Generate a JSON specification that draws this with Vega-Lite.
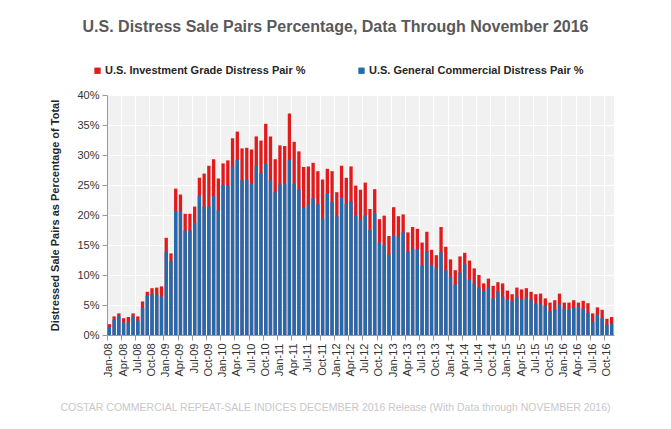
{
  "$schema": "https://vega.github.io/schema/vega-lite/v6.json",
  "autosize": "none",
  "width": 507,
  "height": 240,
  "padding": {"left": 107, "top": 95, "right": 57, "bottom": 94},
  "background": "white",
  "config": {
    "font": "Liberation Sans",
    "view": {"fill": "#f1f1f1", "stroke": null}
  },
  "title": {
    "text": "U.S. Distress Sale Pairs Percentage, Data Through November 2016",
    "fontSize": 16,
    "fontWeight": "bold",
    "color": "#595959",
    "anchor": "middle",
    "dx": -25,
    "offset": 30
  },
  "data": {
    "values": [
      {"m": "Jan-08", "ig": 1.8, "gc": 1.3}, {"m": "Feb-08", "ig": 3.1, "gc": 2.5}, {"m": "Mar-08", "ig": 3.6, "gc": 3.2},
      {"m": "Apr-08", "ig": 2.8, "gc": 2.1}, {"m": "May-08", "ig": 3.0, "gc": 2.1}, {"m": "Jun-08", "ig": 3.6, "gc": 3.1},
      {"m": "Jul-08", "ig": 3.1, "gc": 2.4}, {"m": "Aug-08", "ig": 5.6, "gc": 4.5}, {"m": "Sep-08", "ig": 7.2, "gc": 6.5},
      {"m": "Oct-08", "ig": 7.8, "gc": 6.8}, {"m": "Nov-08", "ig": 7.9, "gc": 6.8}, {"m": "Dec-08", "ig": 8.1, "gc": 6.4},
      {"m": "Jan-09", "ig": 16.2, "gc": 13.9}, {"m": "Feb-09", "ig": 13.6, "gc": 12.3}, {"m": "Mar-09", "ig": 24.4, "gc": 20.7},
      {"m": "Apr-09", "ig": 23.4, "gc": 20.7}, {"m": "May-09", "ig": 20.2, "gc": 17.4}, {"m": "Jun-09", "ig": 20.2, "gc": 17.4},
      {"m": "Jul-09", "ig": 21.4, "gc": 18.7}, {"m": "Aug-09", "ig": 26.2, "gc": 23.2}, {"m": "Sep-09", "ig": 26.9, "gc": 21.4},
      {"m": "Oct-09", "ig": 28.2, "gc": 21.4}, {"m": "Nov-09", "ig": 29.3, "gc": 23.2}, {"m": "Dec-09", "ig": 26.1, "gc": 20.8},
      {"m": "Jan-10", "ig": 28.6, "gc": 25.0}, {"m": "Feb-10", "ig": 29.1, "gc": 24.9}, {"m": "Mar-10", "ig": 32.8, "gc": 28.1},
      {"m": "Apr-10", "ig": 33.9, "gc": 29.2}, {"m": "May-10", "ig": 31.1, "gc": 25.8}, {"m": "Jun-10", "ig": 31.2, "gc": 25.9},
      {"m": "Jul-10", "ig": 30.9, "gc": 25.2}, {"m": "Aug-10", "ig": 33.1, "gc": 28.2}, {"m": "Sep-10", "ig": 32.4, "gc": 27.0},
      {"m": "Oct-10", "ig": 35.2, "gc": 28.5}, {"m": "Nov-10", "ig": 33.1, "gc": 25.8}, {"m": "Dec-10", "ig": 29.3, "gc": 23.8},
      {"m": "Jan-11", "ig": 31.6, "gc": 25.1}, {"m": "Feb-11", "ig": 31.5, "gc": 25.2}, {"m": "Mar-11", "ig": 36.9, "gc": 29.2},
      {"m": "Apr-11", "ig": 32.2, "gc": 25.2}, {"m": "May-11", "ig": 30.6, "gc": 24.3}, {"m": "Jun-11", "ig": 28.0, "gc": 21.2},
      {"m": "Jul-11", "ig": 28.1, "gc": 21.8}, {"m": "Aug-11", "ig": 28.7, "gc": 22.8}, {"m": "Sep-11", "ig": 27.3, "gc": 21.8},
      {"m": "Oct-11", "ig": 25.9, "gc": 19.4}, {"m": "Nov-11", "ig": 27.7, "gc": 23.6}, {"m": "Dec-11", "ig": 27.3, "gc": 22.2},
      {"m": "Jan-12", "ig": 23.8, "gc": 19.8}, {"m": "Feb-12", "ig": 28.2, "gc": 23.0}, {"m": "Mar-12", "ig": 26.2, "gc": 21.8},
      {"m": "Apr-12", "ig": 28.1, "gc": 22.3}, {"m": "May-12", "ig": 24.9, "gc": 19.9}, {"m": "Jun-12", "ig": 24.2, "gc": 19.2},
      {"m": "Jul-12", "ig": 25.4, "gc": 20.0}, {"m": "Aug-12", "ig": 21.0, "gc": 17.5}, {"m": "Sep-12", "ig": 24.3, "gc": 20.3},
      {"m": "Oct-12", "ig": 19.3, "gc": 15.4}, {"m": "Nov-12", "ig": 19.9, "gc": 15.0}, {"m": "Dec-12", "ig": 16.5, "gc": 13.4},
      {"m": "Jan-13", "ig": 21.3, "gc": 16.6}, {"m": "Feb-13", "ig": 19.8, "gc": 16.4}, {"m": "Mar-13", "ig": 20.1, "gc": 17.1},
      {"m": "Apr-13", "ig": 17.1, "gc": 13.9}, {"m": "May-13", "ig": 18.0, "gc": 14.4}, {"m": "Jun-13", "ig": 17.7, "gc": 14.3},
      {"m": "Jul-13", "ig": 15.4, "gc": 11.6}, {"m": "Aug-13", "ig": 17.2, "gc": 14.0}, {"m": "Sep-13", "ig": 14.2, "gc": 11.7},
      {"m": "Oct-13", "ig": 13.3, "gc": 11.1}, {"m": "Nov-13", "ig": 18.0, "gc": 13.8}, {"m": "Dec-13", "ig": 14.7, "gc": 10.8},
      {"m": "Jan-14", "ig": 12.6, "gc": 9.7}, {"m": "Feb-14", "ig": 10.8, "gc": 8.4}, {"m": "Mar-14", "ig": 13.1, "gc": 10.4},
      {"m": "Apr-14", "ig": 13.7, "gc": 11.8}, {"m": "May-14", "ig": 12.4, "gc": 9.2}, {"m": "Jun-14", "ig": 11.1, "gc": 8.6},
      {"m": "Jul-14", "ig": 10.0, "gc": 7.9}, {"m": "Aug-14", "ig": 8.6, "gc": 7.3}, {"m": "Sep-14", "ig": 9.4, "gc": 7.9},
      {"m": "Oct-14", "ig": 8.2, "gc": 6.1}, {"m": "Nov-14", "ig": 8.8, "gc": 7.3}, {"m": "Dec-14", "ig": 8.6, "gc": 6.4},
      {"m": "Jan-15", "ig": 7.4, "gc": 5.9}, {"m": "Feb-15", "ig": 6.8, "gc": 5.7}, {"m": "Mar-15", "ig": 7.9, "gc": 6.4},
      {"m": "Apr-15", "ig": 7.6, "gc": 6.0}, {"m": "May-15", "ig": 7.8, "gc": 6.3}, {"m": "Jun-15", "ig": 7.2, "gc": 5.9},
      {"m": "Jul-15", "ig": 6.8, "gc": 5.2}, {"m": "Aug-15", "ig": 6.9, "gc": 5.1}, {"m": "Sep-15", "ig": 6.1, "gc": 4.9},
      {"m": "Oct-15", "ig": 5.4, "gc": 4.0}, {"m": "Nov-15", "ig": 5.8, "gc": 4.3}, {"m": "Dec-15", "ig": 6.9, "gc": 5.1},
      {"m": "Jan-16", "ig": 5.4, "gc": 4.4}, {"m": "Feb-16", "ig": 5.4, "gc": 4.2}, {"m": "Mar-16", "ig": 5.8, "gc": 4.6},
      {"m": "Apr-16", "ig": 5.4, "gc": 4.7}, {"m": "May-16", "ig": 5.7, "gc": 4.4}, {"m": "Jun-16", "ig": 5.3, "gc": 3.7},
      {"m": "Jul-16", "ig": 3.6, "gc": 2.2}, {"m": "Aug-16", "ig": 4.6, "gc": 3.4}, {"m": "Sep-16", "ig": 4.2, "gc": 2.8},
      {"m": "Oct-16", "ig": 2.7, "gc": 1.7}, {"m": "Nov-16", "ig": 3.0, "gc": 1.9}
    ]
  },
  "transform": [
    {"fold": ["ig", "gc"], "as": ["series", "pct"]}
  ],
  "mark": {"type": "bar"},
  "encoding": {
    "x": {
      "field": "m",
      "type": "ordinal",
      "sort": null,
      "scale": {"paddingInner": 0.3, "paddingOuter": 0.15},
      "axis": {
        "values": ["Jan-08","Apr-08","Jul-08","Oct-08","Jan-09","Apr-09","Jul-09","Oct-09","Jan-10","Apr-10","Jul-10","Oct-10","Jan-11","Apr-11","Jul-11","Oct-11","Jan-12","Apr-12","Jul-12","Oct-12","Jan-13","Apr-13","Jul-13","Oct-13","Jan-14","Apr-14","Jul-14","Oct-14","Jan-15","Apr-15","Jul-15","Oct-15","Jan-16","Apr-16","Jul-16","Oct-16"],
        "labelAngle": -90,
        "labelFontSize": 11,
        "labelColor": "#333333",
        "labelPadding": 3,
        "bandPosition": -0.2,
        "grid": true,
        "gridColor": "white",
        "gridWidth": 1,
        "tickColor": "#9a9a9a",
        "tickSize": 5,
        "domainColor": "#9a9a9a",
        "title": "COSTAR COMMERCIAL REPEAT-SALE INDICES DECEMBER 2016 Release (With Data through NOVEMBER 2016)",
        "titleFont": "Liberation Sans",
        "titleFontSize": 10.5,
        "titleFontWeight": "normal",
        "titleColor": "#c8c8c8",
        "titlePadding": 26,
        "titleX": 228,
        "titleAnchor": "middle",
        "titleAlign": "center"
      }
    },
    "y": {
      "field": "pct",
      "type": "quantitative",
      "stack": null,
      "scale": {"domain": [0, 40], "nice": false},
      "axis": {
        "values": [0, 5, 10, 15, 20, 25, 30, 35, 40],
        "labelExpr": "datum.value + '%'",
        "labelFontSize": 11,
        "labelColor": "#333333",
        "labelPadding": 3,
        "tickColor": "#9a9a9a",
        "tickSize": 5,
        "domainColor": "#9a9a9a",
        "gridColor": "white",
        "gridWidth": 1,
        "title": "Distressed Sale Pairs as Percentage of Total",
        "titleFontSize": 11,
        "titleFontWeight": "bold",
        "titleColor": "#262626",
        "titlePadding": 16
      }
    },
    "color": {
      "field": "series",
      "type": "nominal",
      "scale": {"domain": ["ig", "gc"], "range": ["#e31a1c", "#1f6db1"]},
      "legend": {
        "orient": "none",
        "direction": "horizontal",
        "legendX": -15,
        "legendY": -30,
        "title": null,
        "symbolType": "square",
        "symbolSize": 40,
        "symbolStrokeWidth": 0,
        "labelFontSize": 11,
        "labelFontWeight": "bold",
        "labelColor": "#262626",
        "labelOffset": 2,
        "columnPadding": 50,
        "labelLimit": 400,
        "labelExpr": "datum.label == 'ig' ? 'U.S. Investment Grade Distress Pair %' : 'U.S. General Commercial Distress Pair %'"
      }
    }
  }
}
